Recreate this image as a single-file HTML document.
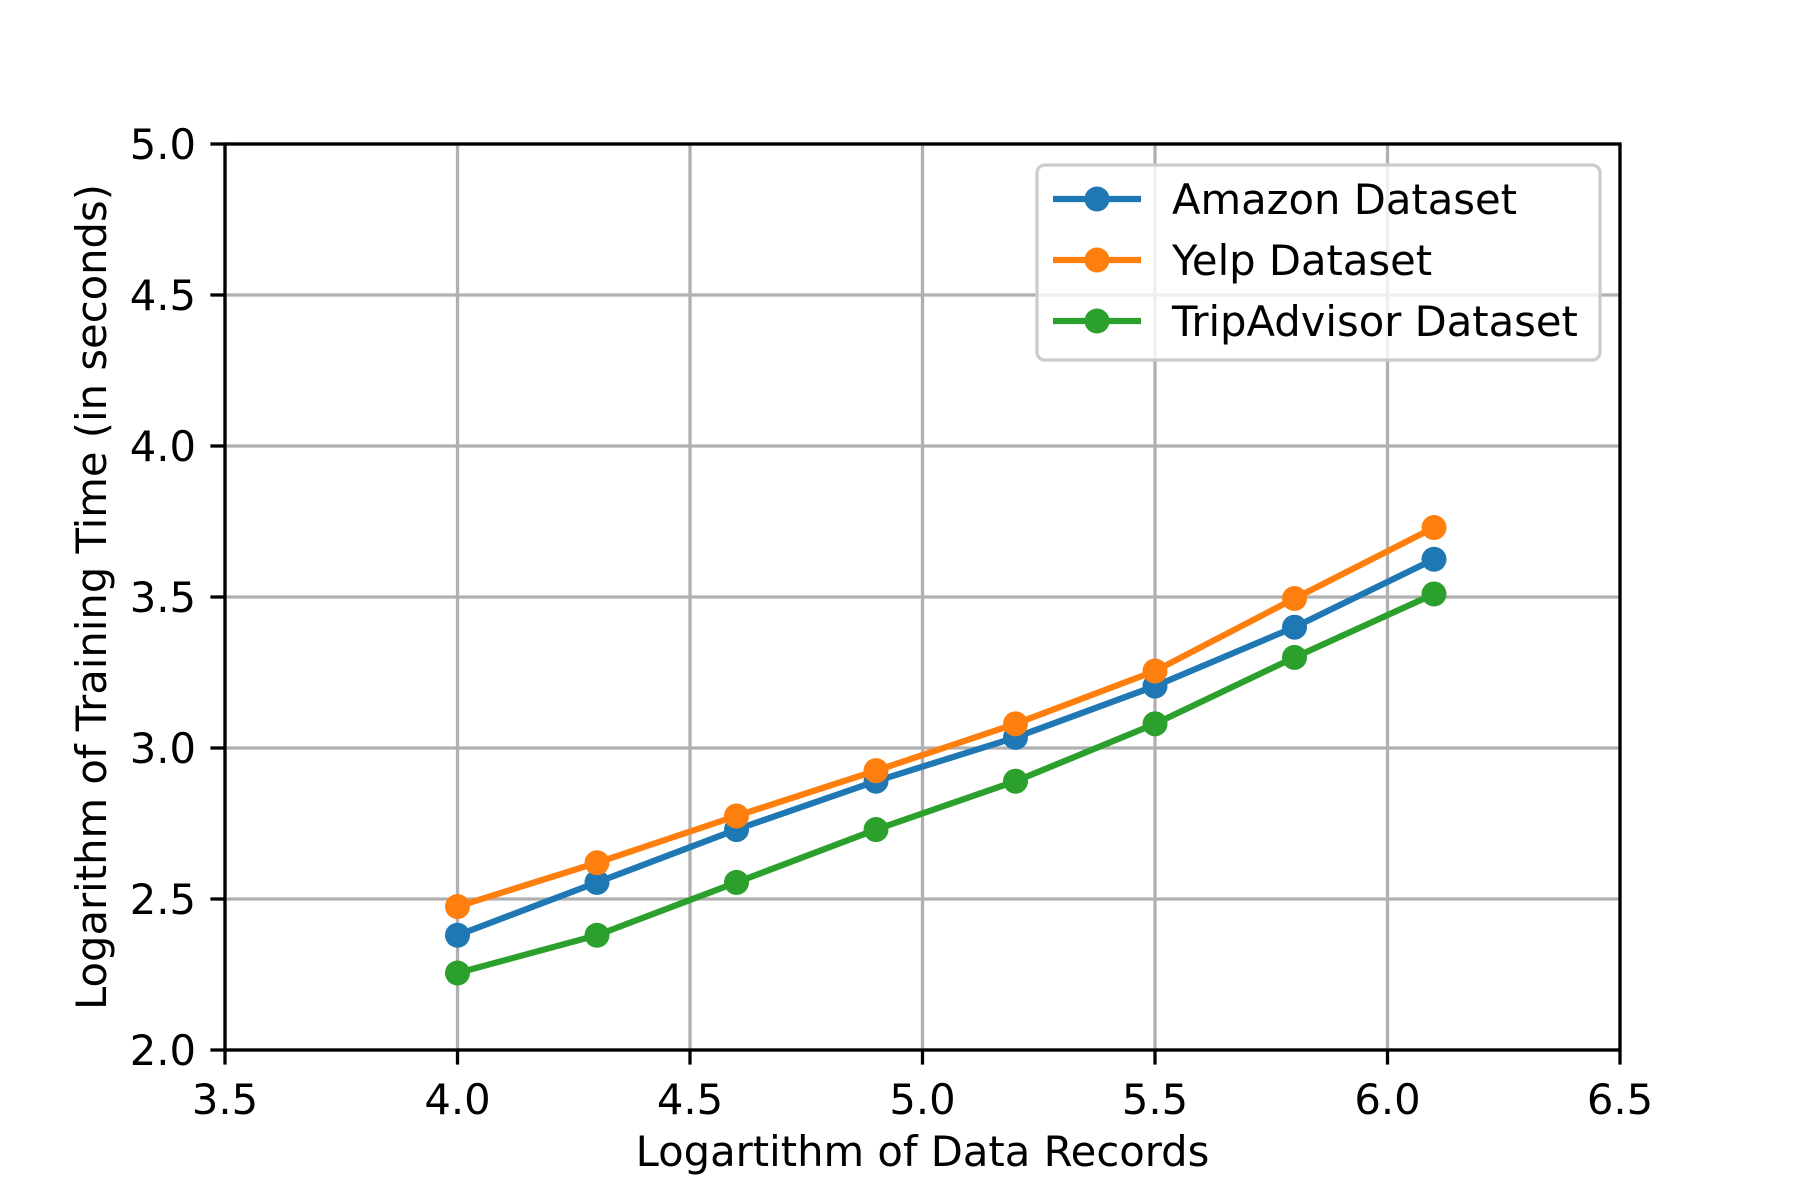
<!DOCTYPE html>
<html><head><meta charset="utf-8"><style>
html,body{margin:0;padding:0;background:#fff;}
svg{display:block;font-family:"DejaVu Sans","Liberation Sans",sans-serif;}
</style></head><body>
<svg id="s" width="1800" height="1200" viewBox="0 0 1800 1200" xmlns="http://www.w3.org/2000/svg"></svg>
<script>
const s=document.getElementById('s');
const L=225,R=1620,T=144,B=1050;
const X=v=>L+(v-3.5)/3*(R-L), Y=v=>B-(v-2)/3*(B-T);
let h='<rect width="1800" height="1200" fill="#fff"/>';
for(let v=3.5;v<=6.51;v+=0.5){h+=`<line x1="${X(v)}" y1="${T}" x2="${X(v)}" y2="${B}" stroke="#b0b0b0" stroke-width="3.3"/>`;}
for(let v=2;v<=5.01;v+=0.5){h+=`<line x1="${L}" y1="${Y(v)}" x2="${R}" y2="${Y(v)}" stroke="#b0b0b0" stroke-width="3.3"/>`;}
const xs=[4.0,4.3,4.6,4.9,5.2,5.5,5.8,6.1];
const ser=[
 ['#1f77b4',[2.38,2.555,2.73,2.89,3.035,3.205,3.40,3.625],'Amazon Dataset'],
 ['#ff7f0e',[2.475,2.62,2.775,2.925,3.08,3.255,3.495,3.73],'Yelp Dataset'],
 ['#2ca02c',[2.255,2.38,2.555,2.73,2.89,3.08,3.30,3.51],'TripAdvisor Dataset']];
for(const [c,ys] of ser){
 h+=`<polyline fill="none" stroke="${c}" stroke-width="6.25" stroke-linejoin="round" points="${xs.map((x,i)=>X(x)+','+Y(ys[i])).join(' ')}"/>`;
 xs.forEach((x,i)=>{h+=`<circle cx="${X(x)}" cy="${Y(ys[i])}" r="12.5" fill="${c}"/>`;});
}
h+=`<rect x="${L}" y="${T}" width="${R-L}" height="${B-T}" fill="none" stroke="#000" stroke-width="3.3"/>`;
for(let v=3.5;v<=6.51;v+=0.5){h+=`<line x1="${X(v)}" y1="${B}" x2="${X(v)}" y2="${B+14.6}" stroke="#000" stroke-width="3.3"/><text x="${X(v)}" y="${B+64}" font-size="41.7" text-anchor="middle">${v.toFixed(1)}</text>`;}
for(let v=2;v<=5.01;v+=0.5){h+=`<line x1="${L}" y1="${Y(v)}" x2="${L-14.6}" y2="${Y(v)}" stroke="#000" stroke-width="3.3"/><text x="196" y="${Y(v)+15}" font-size="41.7" text-anchor="end">${v.toFixed(1)}</text>`;}
h+=`<text x="${(L+R)/2}" y="1166" font-size="41.7" text-anchor="middle">Logartithm of Data Records</text>`;
h+=`<text transform="translate(106,${(T+B)/2}) rotate(-90)" font-size="41.7" text-anchor="middle">Logarithm of Training Time (in seconds)</text>`;
h+=`<rect x="1037" y="165" width="563" height="195" rx="8" fill="#fff" fill-opacity="0.8" stroke="#cccccc" stroke-width="3.3"/>`;
const ly=[199,260,321];
ser.forEach(([c,,n],i)=>{
 h+=`<line x1="1053" y1="${ly[i]}" x2="1141" y2="${ly[i]}" stroke="${c}" stroke-width="6.25"/><circle cx="1097" cy="${ly[i]}" r="12.5" fill="${c}"/><text x="1172" y="${ly[i]+15}" font-size="41.7">${n}</text>`;
});
s.innerHTML=h;
</script>
</body></html>
